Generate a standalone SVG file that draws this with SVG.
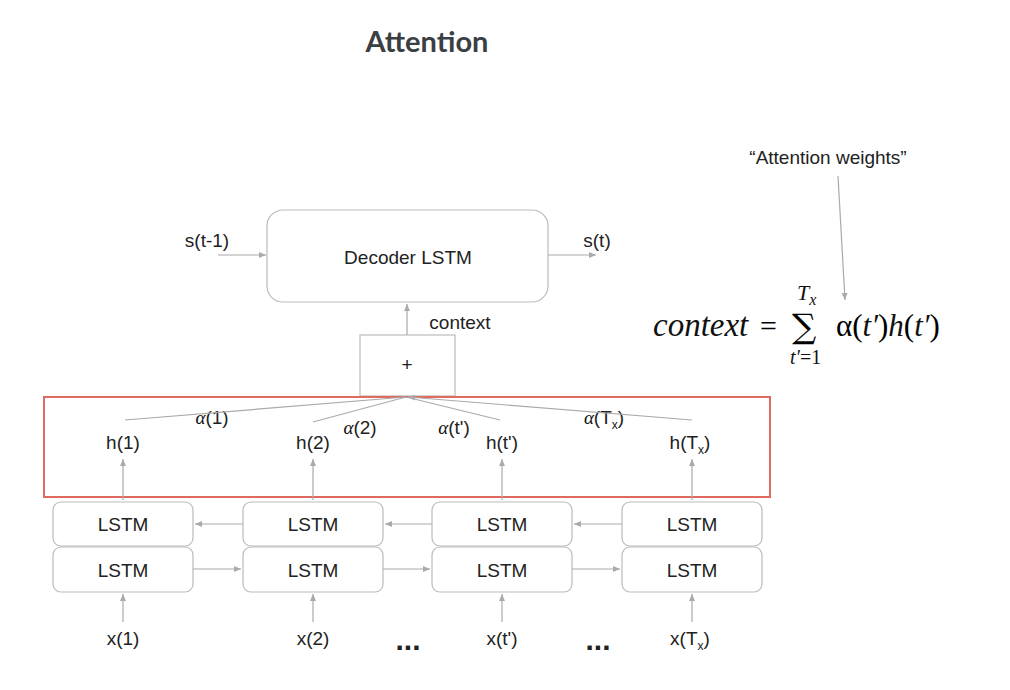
<svg xmlns="http://www.w3.org/2000/svg" width="1010" height="690" viewBox="0 0 1010 690">
<defs>
<marker id="ah" markerWidth="8" markerHeight="8" refX="7" refY="4" orient="auto" markerUnits="userSpaceOnUse"><path d="M0,1 L7,4 L0,7 z" fill="#aaa"/></marker>
<style>
.t{font-family:"Liberation Sans",Arial,sans-serif;font-size:19px;fill:#222;text-anchor:middle}
.box{fill:#fff;stroke:#bbb;stroke-width:1.2}
.c{stroke:#aaa;stroke-width:1.2;fill:none}
.a{marker-end:url(#ah)}
.m{font-family:"Liberation Serif",serif;font-style:italic;fill:#111}
</style>
</defs>
<rect width="1010" height="690" fill="#fff"/>
<text x="427" y="52" style="font-family:Lato,sans-serif;font-weight:bold;font-size:29px;fill:#3a3f44" text-anchor="middle">Attention</text>
<g id="decoder"><rect class="box" x="267" y="210" width="281" height="92" rx="16"/><text class="t" x="408" y="264">Decoder LSTM</text></g>
<g id="plus"><rect class="box" x="360" y="335" width="95" height="61"/><text class="t" x="407" y="371">+</text></g>
<g id="attnbox"><rect x="44" y="397" width="726" height="100" fill="none" stroke="#e06a60" stroke-width="2"/></g>
<g id="labels">
<text class="t" x="207" y="247">s(t-1)</text><text class="t" x="597" y="247">s(t)</text>
<text class="t" x="460" y="329">context</text>
<text class="t" x="828" y="164">“Attention weights”</text>
<text class="t" x="123" y="449">h(1)</text><text class="t" x="313" y="449">h(2)</text><text class="t" x="502" y="449">h(t')</text>
<text class="t" x="690" y="449">h(T<tspan font-size="12" dy="5">x</tspan><tspan dy="-5">)</tspan></text>
<text class="t" x="212" y="424"><tspan class="m">α</tspan>(1)</text>
<text class="t" x="360" y="434"><tspan class="m">α</tspan>(2)</text>
<text class="t" x="454" y="434"><tspan class="m">α</tspan>(t')</text>
<text class="t" x="604" y="424"><tspan class="m">α</tspan>(T<tspan font-size="12" dy="5">x</tspan><tspan dy="-5">)</tspan></text>
<text class="t" x="123" y="645">x(1)</text><text class="t" x="313" y="645">x(2)</text><text class="t" x="502" y="645">x(t')</text>
<text class="t" x="690" y="645">x(T<tspan font-size="12" dy="5">x</tspan><tspan dy="-5">)</tspan></text>
<text class="t" x="408" y="650" style="font-size:30px;font-weight:bold">...</text>
<text class="t" x="598" y="650" style="font-size:30px;font-weight:bold">...</text>
</g>
<g id="formula">
<text class="m" x="653" y="336" font-size="33">context</text>
<text x="760" y="336" font-size="30" style="font-family:'Liberation Serif',serif">=</text>
<text x="792" y="338" font-size="34" style="font-family:'DejaVu Serif',serif">∑</text>
<text class="m" x="797" y="300" font-size="22">T<tspan font-size="16" dy="5">x</tspan></text>
<text class="m" x="790" y="364" font-size="20">t′<tspan style="font-style:normal">=1</tspan></text>
<text x="836" y="336" font-size="31" style="font-family:'Liberation Serif',serif">α(<tspan class="m">t′</tspan>)<tspan class="m">h</tspan>(<tspan class="m">t′</tspan>)</text>
</g>
<g id="lstm">
<g id="b1"><rect class="box" x="53" y="502" width="140" height="44" rx="8"/><text class="t" x="123" y="531">LSTM</text><rect class="box" x="53" y="547" width="140" height="45" rx="8"/><text class="t" x="123" y="577">LSTM</text></g>
<g id="b2"><rect class="box" x="243" y="502" width="140" height="44" rx="8"/><text class="t" x="313" y="531">LSTM</text><rect class="box" x="243" y="547" width="140" height="45" rx="8"/><text class="t" x="313" y="577">LSTM</text></g>
<g id="b3"><rect class="box" x="432" y="502" width="140" height="44" rx="8"/><text class="t" x="502" y="531">LSTM</text><rect class="box" x="432" y="547" width="140" height="45" rx="8"/><text class="t" x="502" y="577">LSTM</text></g>
<g id="b4"><rect class="box" x="622" y="502" width="140" height="44" rx="8"/><text class="t" x="692" y="531">LSTM</text><rect class="box" x="622" y="547" width="140" height="45" rx="8"/><text class="t" x="692" y="577">LSTM</text></g>
</g>
<g id="connectors">
<line class="c a" x1="218" y1="255" x2="266" y2="255"/>
<line class="c a" x1="548" y1="255" x2="596" y2="255"/>
<line class="c a" x1="407" y1="335" x2="407" y2="304"/>
<line class="c a" x1="838" y1="176" x2="845" y2="300"/>
<line class="c" x1="125" y1="420" x2="406" y2="397"/>
<line class="c" x1="313" y1="422" x2="406" y2="397"/>
<line class="c" x1="500" y1="420" x2="406" y2="397"/>
<line class="c a" x1="692" y1="420" x2="408" y2="397"/>
<line class="c a" x1="123" y1="500" x2="123" y2="459"/>
<line class="c a" x1="313" y1="500" x2="313" y2="459"/>
<line class="c a" x1="502" y1="500" x2="502" y2="459"/>
<line class="c a" x1="692" y1="500" x2="692" y2="459"/>
<line class="c a" x1="243" y1="524" x2="195" y2="524"/>
<line class="c a" x1="432" y1="524" x2="385" y2="524"/>
<line class="c a" x1="622" y1="524" x2="574" y2="524"/>
<line class="c a" x1="193" y1="569" x2="241" y2="569"/>
<line class="c a" x1="383" y1="569" x2="430" y2="569"/>
<line class="c a" x1="572" y1="569" x2="620" y2="569"/>
<line class="c a" x1="123" y1="622" x2="123" y2="594"/>
<line class="c a" x1="313" y1="622" x2="313" y2="594"/>
<line class="c a" x1="502" y1="622" x2="502" y2="594"/>
<line class="c a" x1="692" y1="622" x2="692" y2="594"/>
</g>
</svg>
